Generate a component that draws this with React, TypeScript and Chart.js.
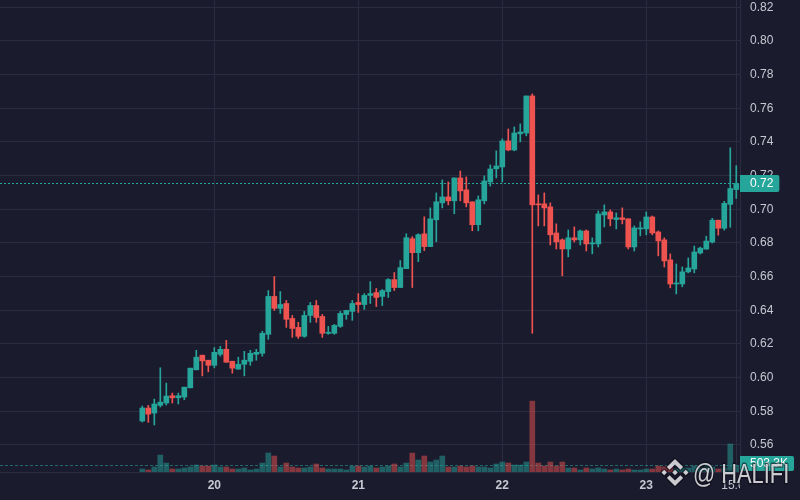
import React, { useEffect, useRef } from 'react';
import { Chart, registerables } from 'chart.js';

Chart.register(...registerables);

// Hourly candles from the 19th 12:00 to the 23rd 15:00 (index 0..99)
const opens = [
  0.5742, 0.5819, 0.5789, 0.5835, 0.5849, 0.5892, 0.5880, 0.5884, 0.5939, 0.6046,
  0.6133, 0.6103, 0.6073, 0.6138, 0.6168, 0.6097, 0.6050, 0.6079, 0.6097, 0.6138,
  0.6144, 0.6257, 0.6482, 0.6411, 0.6440, 0.6351, 0.6298, 0.6245, 0.6369, 0.6428,
  0.6363, 0.6263, 0.6263, 0.6304, 0.6375, 0.6393, 0.6446, 0.6434, 0.6488, 0.6505,
  0.6482, 0.6511, 0.6582, 0.6535, 0.6647, 0.6825, 0.6742, 0.6854, 0.6778, 0.6937,
  0.7038, 0.7073, 0.7050, 0.7186, 0.7115, 0.7044, 0.6908, 0.7050, 0.7162, 0.7240,
  0.7251, 0.7406, 0.7352, 0.7448, 0.7453, 0.7673, 0.7032, 0.7032, 0.7014, 0.6859,
  0.6818, 0.6764, 0.6830, 0.6818, 0.6871, 0.6794, 0.6794, 0.6966, 0.6984, 0.6939,
  0.6949, 0.6943, 0.6776, 0.6883, 0.6883, 0.6954, 0.6865, 0.6818, 0.6699, 0.6556,
  0.6556, 0.6628, 0.6645, 0.6740, 0.6763, 0.6805, 0.6935, 0.6887, 0.7029, 0.7117,
];
const highs = [
  0.5831, 0.5835, 0.5872, 0.6058, 0.5967, 0.5908, 0.5908, 0.5943, 0.6056, 0.6162,
  0.6133, 0.6103, 0.6178, 0.6186, 0.6221, 0.6097, 0.6121, 0.6156, 0.6162, 0.6168,
  0.6275, 0.6517, 0.6600, 0.6511, 0.6458, 0.6369, 0.6328, 0.6393, 0.6446, 0.6458,
  0.6375, 0.6304, 0.6316, 0.6393, 0.6399, 0.6458, 0.6499, 0.6499, 0.6570, 0.6529,
  0.6523, 0.6588, 0.6624, 0.6695, 0.6854, 0.6837, 0.6854, 0.6955, 0.7008, 0.7097,
  0.7174, 0.7162, 0.7186, 0.7227, 0.7192, 0.7044, 0.7079, 0.7198, 0.7263, 0.7347,
  0.7418, 0.7477, 0.7489, 0.7507, 0.7673, 0.7685, 0.7085, 0.7097, 0.7038, 0.6913,
  0.6824, 0.6877, 0.6895, 0.6877, 0.6877, 0.6830, 0.6990, 0.7026, 0.6996, 0.6978,
  0.7008, 0.6943, 0.6901, 0.6925, 0.6984, 0.6960, 0.6871, 0.6830, 0.6735, 0.6675,
  0.6657, 0.6711, 0.6781, 0.6775, 0.6840, 0.6946, 0.6935, 0.7047, 0.7365, 0.7259,
];
const lows = [
  0.5736, 0.5734, 0.5718, 0.5825, 0.5837, 0.5849, 0.5843, 0.5868, 0.5939, 0.6046,
  0.6010, 0.6034, 0.6058, 0.6127, 0.6091, 0.6026, 0.6050, 0.6010, 0.6073, 0.6103,
  0.6127, 0.6227, 0.6399, 0.6381, 0.6298, 0.6239, 0.6233, 0.6239, 0.6328, 0.6328,
  0.6239, 0.6257, 0.6257, 0.6298, 0.6346, 0.6340, 0.6387, 0.6405, 0.6440, 0.6422,
  0.6428, 0.6476, 0.6517, 0.6535, 0.6647, 0.6535, 0.6689, 0.6754, 0.6778, 0.6807,
  0.7008, 0.7026, 0.6973, 0.7050, 0.7014, 0.6872, 0.6872, 0.7032, 0.7138, 0.7186,
  0.7162, 0.7347, 0.7347, 0.7400, 0.7436, 0.6263, 0.6901, 0.6901, 0.6788, 0.6764,
  0.6604, 0.6717, 0.6806, 0.6788, 0.6752, 0.6735, 0.6776, 0.6895, 0.6901, 0.6883,
  0.6913, 0.6764, 0.6752, 0.6842, 0.6848, 0.6848, 0.6723, 0.6657, 0.6533, 0.6497,
  0.6539, 0.6622, 0.6622, 0.6734, 0.6763, 0.6799, 0.6846, 0.6876, 0.6893, 0.7064,
];
const closes = [
  0.5819, 0.5783, 0.5843, 0.5854, 0.5890, 0.5880, 0.5892, 0.5943, 0.6056, 0.6121,
  0.6099, 0.6073, 0.6150, 0.6168, 0.6091, 0.6056, 0.6079, 0.6103, 0.6144, 0.6150,
  0.6263, 0.6482, 0.6411, 0.6434, 0.6346, 0.6292, 0.6245, 0.6369, 0.6428, 0.6357,
  0.6263, 0.6269, 0.6310, 0.6381, 0.6399, 0.6440, 0.6434, 0.6488, 0.6499, 0.6476,
  0.6517, 0.6582, 0.6535, 0.6653, 0.6831, 0.6742, 0.6849, 0.6778, 0.6943, 0.7044,
  0.7073, 0.7050, 0.7186, 0.7109, 0.7038, 0.6908, 0.7056, 0.7168, 0.7239, 0.7257,
  0.7406, 0.7352, 0.7453, 0.7459, 0.7673, 0.7026, 0.7026, 0.7008, 0.6848, 0.6806,
  0.6764, 0.6830, 0.6818, 0.6871, 0.6794, 0.6800, 0.6972, 0.6984, 0.6943, 0.6949,
  0.6939, 0.6776, 0.6889, 0.6889, 0.6954, 0.6859, 0.6812, 0.6693, 0.6556, 0.6562,
  0.6628, 0.6651, 0.6746, 0.6769, 0.6811, 0.6935, 0.6887, 0.7035, 0.7123, 0.7153,
];
// Volume in thousands
const volumesK = [
  225, 150, 375, 1275, 675, 225, 225, 300, 375, 525,
  450, 450, 525, 375, 375, 225, 225, 300, 150, 225,
  675, 1425, 1200, 375, 675, 375, 300, 300, 375, 600,
  300, 225, 225, 225, 150, 450, 450, 375, 450, 300,
  375, 450, 600, 375, 675, 1425, 900, 1200, 750, 900,
  1200, 375, 375, 450, 375, 450, 375, 375, 300, 600,
  750, 675, 525, 525, 750, 5325, 675, 450, 750, 450,
  750, 300, 300, 150, 300, 225, 300, 225, 150, 225,
  150, 225, 150, 150, 225, 225, 450, 375, 450, 225,
  300, 300, 450, 300, 375, 375, 225, 300, 2100, 503.3,
];

const xTickPositions = [12, 36, 60, 84, 99];
const xTickLabels = ['20', '21', '22', '23', '15:00'];
const xTickBold = [true, true, true, true, false];
const yTicks = [0.56, 0.58, 0.6, 0.62, 0.64, 0.66, 0.68, 0.7, 0.72, 0.74, 0.76, 0.78, 0.8, 0.82];

const UP = '#26a69a';
const DOWN = '#ef5350';
const UP_VOL = 'rgba(38,166,154,0.5)';
const DOWN_VOL = 'rgba(239,83,80,0.5)';
const BG = '#1b1b2e';
const GRID = '#2c2c41';
const TEXT = '#c6c9d1';
const FONT = '"Liberation Sans", Arial, sans-serif';
const WATERMARK = '@ HALIFI';

function poly(ctx: CanvasRenderingContext2D, pts: number[][], cx: number, cy: number, s: number) {
  ctx.moveTo(cx + pts[0][0] * s, cy + pts[0][1] * s);
  for (let i = 1; i < pts.length; i++) ctx.lineTo(cx + pts[i][0] * s, cy + pts[i][1] * s);
  ctx.closePath();
}

export default function App() {
  const ref = useRef<HTMLCanvasElement>(null);

  useEffect(() => {
    document.body.style.margin = '0';
    document.body.style.background = BG;
    const canvas = ref.current!;
    const n = closes.length;
    const up = closes.map((c, i) => c >= opens[i]);
    const last = n - 1;

    const overlay = {
      id: 'overlay',
      beforeDraw(chart: any) {
        const { ctx } = chart;
        ctx.save();
        ctx.fillStyle = BG;
        ctx.fillRect(0, 0, chart.width, chart.height);
        ctx.restore();
      },
      beforeDatasetsDraw(chart: any) {
        const { ctx, chartArea } = chart;
        const y = chart.scales.y.getPixelForValue(closes[last]);
        const yv = chart.scales.yv.getPixelForValue(volumesK[last]);
        ctx.save();
        ctx.lineWidth = 1;
        ctx.setLineDash([2, 2]);
        ctx.strokeStyle = UP;
        ctx.beginPath();
        ctx.moveTo(chartArea.left, Math.round(y) + 0.5);
        ctx.lineTo(chartArea.right, Math.round(y) + 0.5);
        ctx.stroke();
        ctx.setLineDash([3, 2]);
        ctx.strokeStyle = 'rgba(38,166,154,0.55)';
        ctx.beginPath();
        ctx.moveTo(chartArea.left, Math.round(yv) + 0.5);
        ctx.lineTo(chartArea.right, Math.round(yv) + 0.5);
        ctx.stroke();
        ctx.restore();
      },
      afterDraw(chart: any) {
        const { ctx, chartArea } = chart;
        const right = chartArea.right;
        ctx.save();
        ctx.font = `12px ${FONT}`;
        ctx.textBaseline = 'middle';
        ctx.textAlign = 'left';

        // last price label
        const y = chart.scales.y.getPixelForValue(closes[last]);
        const pTxt = closes[last].toFixed(2);
        const pw = ctx.measureText(pTxt).width;
        ctx.fillStyle = UP;
        ctx.beginPath();
        ctx.roundRect(right, y - 8.5, pw + 16, 17, [0, 2, 2, 0]);
        ctx.fill();
        ctx.fillStyle = '#ffffff';
        ctx.fillText(pTxt, right + 10, y + 0.5);

        // last volume label
        const yv = chart.scales.yv.getPixelForValue(volumesK[last]);
        const vTxt = `${volumesK[last].toFixed(1)}K`;
        const vw = ctx.measureText(vTxt).width;
        const vTop = Math.min(yv - 8, chartArea.bottom - 16);
        ctx.fillStyle = UP;
        ctx.beginPath();
        ctx.roundRect(right, vTop, vw + 16, 15, [0, 2, 2, 0]);
        ctx.fill();
        ctx.fillStyle = '#ffffff';
        ctx.fillText(vTxt, right + 10, vTop + 8);

        // last x tick label, clipped by the price scale
        const li = xTickLabels.length - 1;
        const lx = chart.scales.x.getPixelForValue(xTickPositions[li]);
        ctx.save();
        ctx.beginPath();
        ctx.rect(0, chartArea.bottom, right, chart.height - chartArea.bottom);
        ctx.clip();
        ctx.fillStyle = TEXT;
        ctx.textAlign = 'center';
        ctx.font = `${xTickBold[li] ? 'bold ' : ''}12px ${FONT}`;
        ctx.fillText(xTickLabels[li], lx, chartArea.bottom + 6 + 7.2);
        ctx.restore();

        // watermark: logo + text
        const cx = 675, cy = 472.5, s = 13.5;
        ctx.lineJoin = 'round';
        ctx.beginPath();
        poly(ctx, [[0, -0.2], [0.2, 0], [0, 0.2], [-0.2, 0]], cx, cy, s);
        poly(ctx, [[-0.8, -0.2], [-0.6, 0], [-0.8, 0.2], [-1.0, 0]], cx, cy, s);
        poly(ctx, [[0.8, -0.2], [1.0, 0], [0.8, 0.2], [0.6, 0]], cx, cy, s);
        poly(ctx, [[0, -1], [0.6, -0.4], [0.4, -0.2], [0, -0.6], [-0.4, -0.2], [-0.6, -0.4]], cx, cy, s);
        poly(ctx, [[0, 1], [-0.6, 0.4], [-0.4, 0.2], [0, 0.6], [0.4, 0.2], [0.6, 0.4]], cx, cy, s);
        ctx.strokeStyle = 'rgba(10,10,20,0.55)';
        ctx.lineWidth = 3;
        ctx.stroke();
        ctx.fillStyle = 'rgba(228,228,232,0.88)';
        ctx.fill();

        ctx.save();
        ctx.translate(693, 483);
        ctx.scale(0.78, 1);
        ctx.font = `28px ${FONT}`;
        ctx.textBaseline = 'alphabetic';
        ctx.textAlign = 'left';
        ctx.lineWidth = 3;
        ctx.strokeStyle = 'rgba(10,10,20,0.55)';
        ctx.strokeText(WATERMARK, 0, 0);
        ctx.fillStyle = 'rgba(228,228,232,0.88)';
        ctx.fillText(WATERMARK, 0, 0);
        ctx.restore();

        ctx.restore();
      },
    };

    const chart = new Chart(canvas, {
      type: 'bar',
      data: {
        datasets: [
          {
            label: 'Body',
            data: opens.map((o, i) => ({ x: i, y: [Math.min(o, closes[i]), Math.max(o, closes[i])] })) as any,
            backgroundColor: up.map((u) => (u ? UP : DOWN)),
            barThickness: 5,
            grouped: false,
            borderWidth: 0,
            order: 1,
            yAxisID: 'y',
          },
          {
            label: 'Wick',
            data: lows.map((l, i) => ({ x: i, y: [l, highs[i]] })) as any,
            backgroundColor: up.map((u) => (u ? UP : DOWN)),
            barThickness: 1,
            grouped: false,
            borderWidth: 0,
            order: 2,
            yAxisID: 'y',
          },
          {
            label: 'Volume',
            data: volumesK.map((v, i) => ({ x: i, y: v })) as any,
            backgroundColor: up.map((u) => (u ? UP_VOL : DOWN_VOL)),
            barThickness: 5,
            grouped: false,
            borderWidth: 0,
            order: 3,
            yAxisID: 'yv',
          },
        ],
      },
      options: {
        responsive: false,
        animation: false,
        layout: { padding: 0 },
        plugins: {
          legend: { display: false },
          tooltip: { enabled: false },
        },
        scales: {
          x: {
            type: 'linear',
            position: 'bottom',
            offset: false,
            min: -23.72,
            max: 99.62,
            grid: { color: GRID, drawTicks: false, offset: false },
            border: { display: true, color: GRID },
            afterBuildTicks: (scale: any) => {
              scale.ticks = xTickPositions.map((v) => ({ value: v }));
            },
            afterFit: (scale: any) => {
              scale.height = 28;
              scale.paddingLeft = 0;
              scale.paddingRight = 0;
            },
            ticks: {
              autoSkip: false,
              maxRotation: 0,
              padding: 6,
              color: TEXT,
              font: (ctx: any) => ({ family: FONT, size: 12, weight: xTickBold[ctx.index] ? 'bold' : 'normal' }),
              callback: (_v: any, i: number) => (i === xTickLabels.length - 1 ? '' : xTickLabels[i]),
            },
          },
          y: {
            type: 'linear',
            position: 'right',
            min: 0.5439,
            max: 0.8243,
            grid: { color: GRID, drawTicks: false },
            border: { display: true, color: GRID },
            afterBuildTicks: (scale: any) => {
              scale.ticks = yTicks.map((v) => ({ value: v }));
            },
            afterFit: (scale: any) => {
              scale.width = 60;
              scale.paddingTop = 0;
              scale.paddingBottom = 0;
            },
            ticks: {
              padding: 10,
              color: TEXT,
              font: { family: FONT, size: 12 },
              callback: (v: any) => Number(v).toFixed(2),
            },
          },
          yv: {
            type: 'linear',
            display: false,
            min: 0,
            max: 35450,
          },
        },
      },
      plugins: [overlay],
    });

    return () => chart.destroy();
  }, []);

  return (
    <div style={{ position: 'fixed', left: 0, top: 0, width: 800, height: 500 }}>
      <canvas ref={ref} width={800} height={500} style={{ display: 'block' }} />
    </div>
  );
}
